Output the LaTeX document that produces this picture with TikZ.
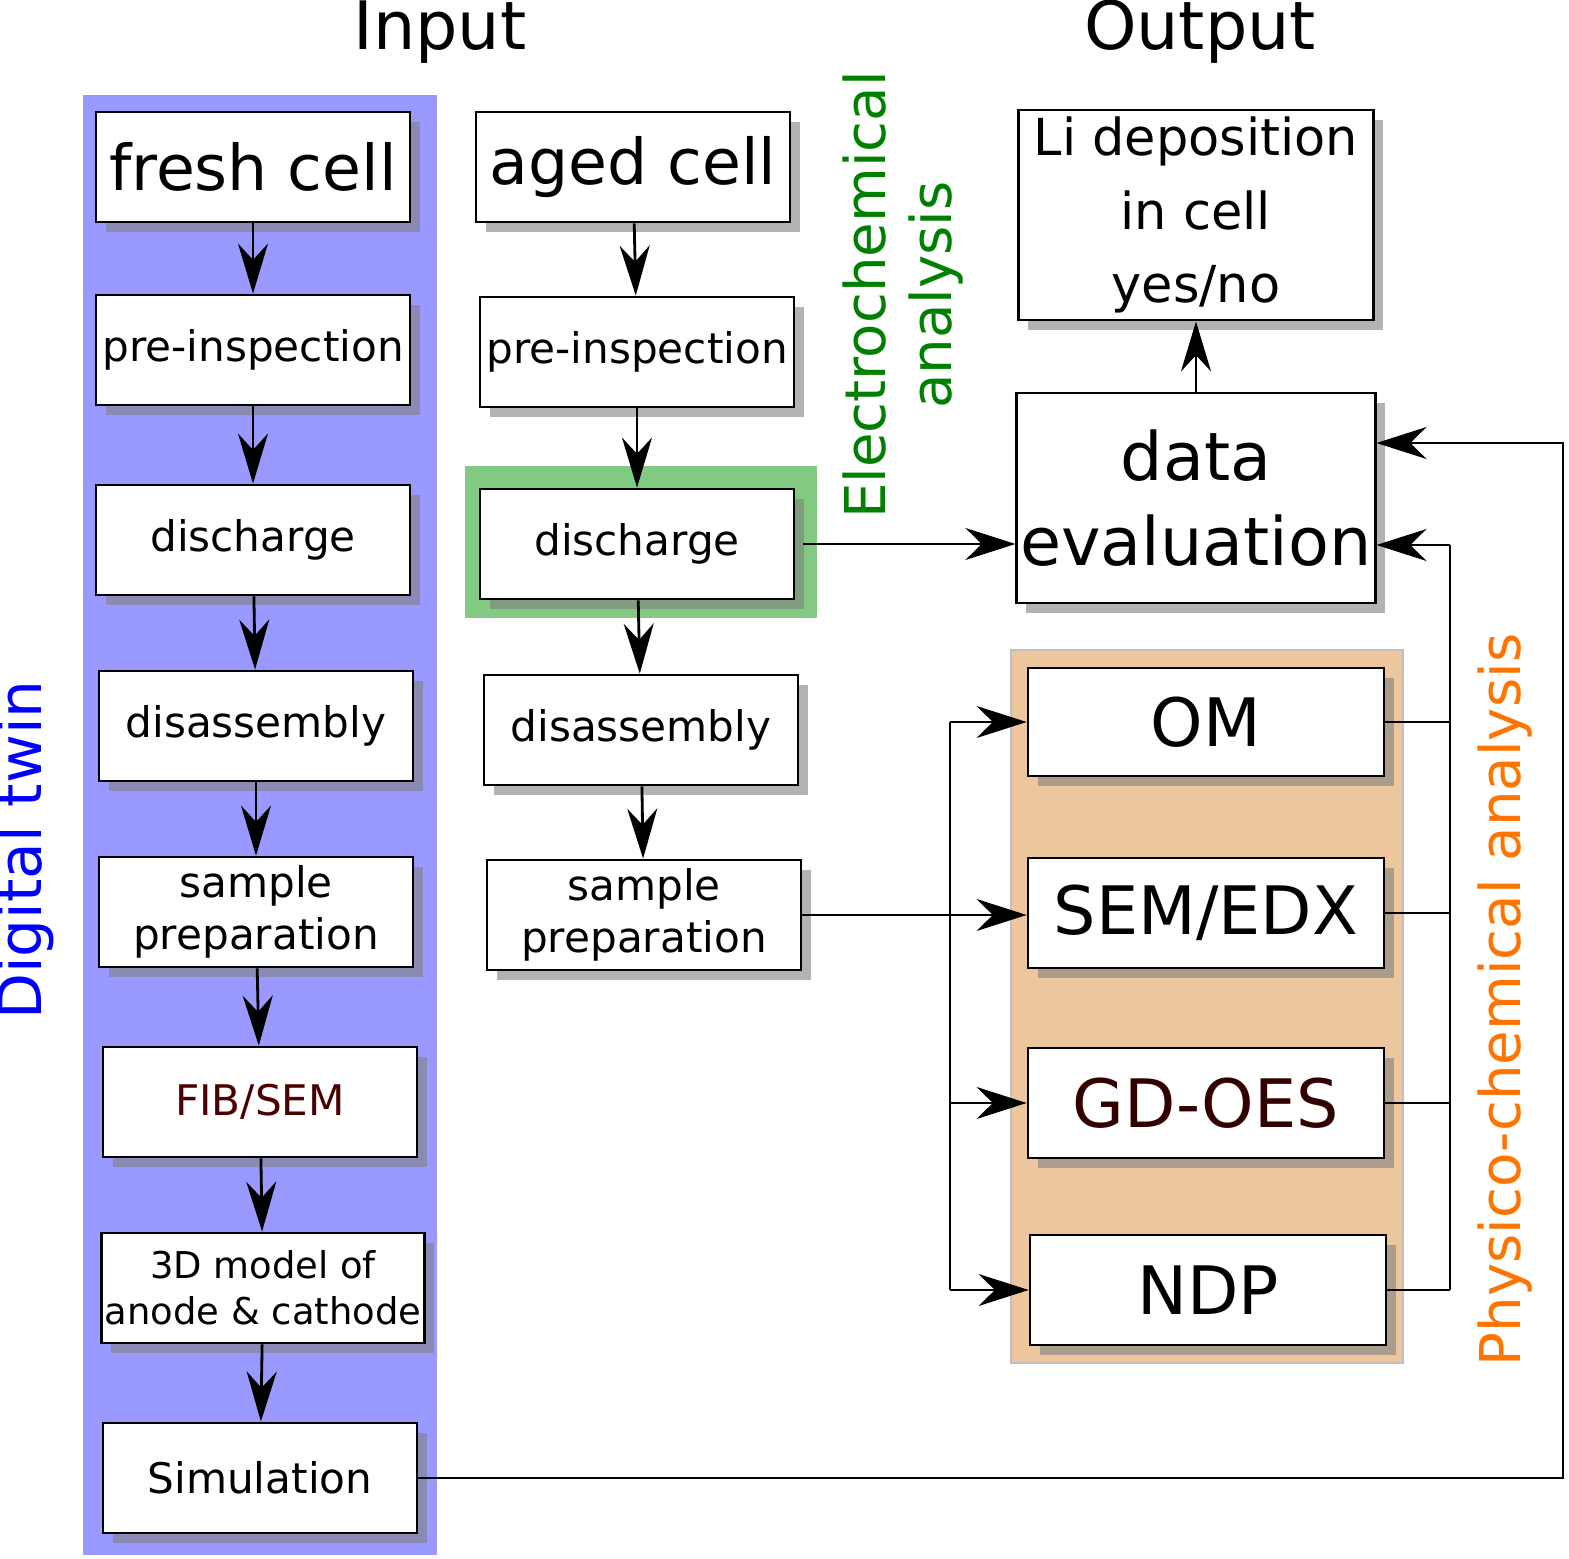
\documentclass[tikz,border=0pt]{standalone}
\usepackage{fontspec}
\setmainfont{DejaVu Sans}
\usetikzlibrary{arrows.meta, shadows}
\tikzstyle{block} = [draw, thick, fill=white, rectangle, drop shadow={opacity=0.6},
minimum height=1.1cm, minimum width=3.14cm, align=center, inner sep=1pt]
\tikzstyle{bigblock} = [block, minimum width=3.56cm, font=\fontsize{19}{22}\selectfont]
\tikzstyle{flow} = [-{Stealth[length=5mm,width=3mm]}, thick]
\tikzstyle{link} = [-{Stealth[length=5mm,width=3.2mm]}]
\tikzstyle{title} = [font=\fontsize{19}{22}\selectfont]

\begin{document}
\begin{tikzpicture}[font=\fontsize{12}{15}\selectfont]
	\useasboundingbox (0,0) rectangle (15.69,-15.59);
	% backgrounds
	\fill [blue!40] (0.83,-0.95) rectangle (4.37,-15.55);
	\fill [green!40!gray!70] (4.65,-4.66) rectangle (8.17,-6.18);
	\fill [orange!40!brown!45, draw=gray!50] (10.11,-6.50) rectangle (14.03,-13.63);
	% titles
	\node [title] (input) at (4.40,-0.32) {Input};
	\node [title] (output) at (12.00,-0.32) {Output};
	\node [rotate=90, blue, font=\fontsize{17}{20}\selectfont] (twin) at (0.25,-8.50) {Digital twin};
	\node [rotate=90, green!50!black, align=center, font=\fontsize{16}{19}\selectfont] (electro) at (9.03,-2.95) {Electrochemical\\analysis};
	\node [rotate=90, orange!90!red, font=\fontsize{16}{19}\selectfont] (physico) at (15.05,-10.00) {Physico-chemical analysis};
	% fresh cell column
	\node [block, font=\fontsize{18}{21}\selectfont] (fresh) at (2.53,-1.67) {fresh cell};
	\node [block] (fpre) at (2.53,-3.50) {pre-inspection};
	\node [block] (fdis) at (2.53,-5.40) {discharge};
	\node [block] (fasm) at (2.56,-7.26) {disassembly};
	\node [block] (fsam) at (2.56,-9.12) {sample\\preparation};
	\node [block, text=red!30!black] (ffib) at (2.60,-11.02) {FIB/SEM};
	\node [block, font=\fontsize{10.5}{13}\selectfont] (fmod) at (2.63,-12.88) {3D model of\\anode \& cathode};
	\node [block] (fsim) at (2.60,-14.78) {Simulation};
	\foreach \a/\b in {fresh/fpre, fpre/fdis, fdis/fasm, fasm/fsam, fsam/ffib, ffib/fmod, fmod/fsim}
		\draw [flow] (\a) -- (\b);
	% aged cell column
	\node [block, font=\fontsize{18}{21}\selectfont] (aged) at (6.33,-1.67) {aged cell};
	\node [block] (apre) at (6.37,-3.52) {pre-inspection};
	\node [block] (adis) at (6.37,-5.44) {discharge};
	\node [block] (aasm) at (6.41,-7.30) {disassembly};
	\node [block] (asam) at (6.44,-9.15) {sample\\preparation};
	\foreach \a/\b in {aged/apre, apre/adis, adis/aasm, aasm/asam}
		\draw [flow] (\a) -- (\b);
	% outputs
	\node [block, minimum width=3.55cm, minimum height=2.1cm, font=\fontsize{14.5}{21}\selectfont] (li) at (11.96,-2.15) {Li deposition\\in cell\\yes/no};
	\node [block, minimum width=3.55cm, minimum height=2.1cm, font=\fontsize{19}{24}\selectfont] (eval) at (11.96,-4.98) {data\\evaluation};
	\draw [flow] (eval) -- (li);
	% physico-chemical methods
	\node [bigblock, minimum height=1.08cm] (om) at (12.06,-7.22) {OM};
	\node [bigblock] (sem) at (12.06,-9.13) {SEM/EDX};
	\node [bigblock, text=red!20!black] (gd) at (12.06,-11.03) {GD-OES};
	\node [bigblock] (ndp) at (12.08,-12.90) {NDP};
	% connectors
	\draw [link] (adis.east) ++(0.08,0) coordinate (d0) -- (eval.west |- d0);
	\draw [link] (asam.east) -- (asam.east -| sem.west);
	\coordinate (bus) at (9.50,0);
	\draw (bus |- om.west) -- (bus |- ndp.west);
	\foreach \m in {om, gd, ndp}
		\draw [link] (bus |- \m.west) -- (\m.west);
	\coordinate (ret) at (14.50,-5.45);
	\foreach \m in {om, sem, gd, ndp}
		\draw (\m.east) -- (\m.east -| ret);
	\draw (ret |- ndp.east) -- (ret);
	\draw [link] (ret) -- (ret -| eval.east);
	\coordinate (simret) at (15.63,-4.43);
	\draw [link] (fsim.east) -| (simret) -- (simret -| eval.east);
\end{tikzpicture}
\end{document}
